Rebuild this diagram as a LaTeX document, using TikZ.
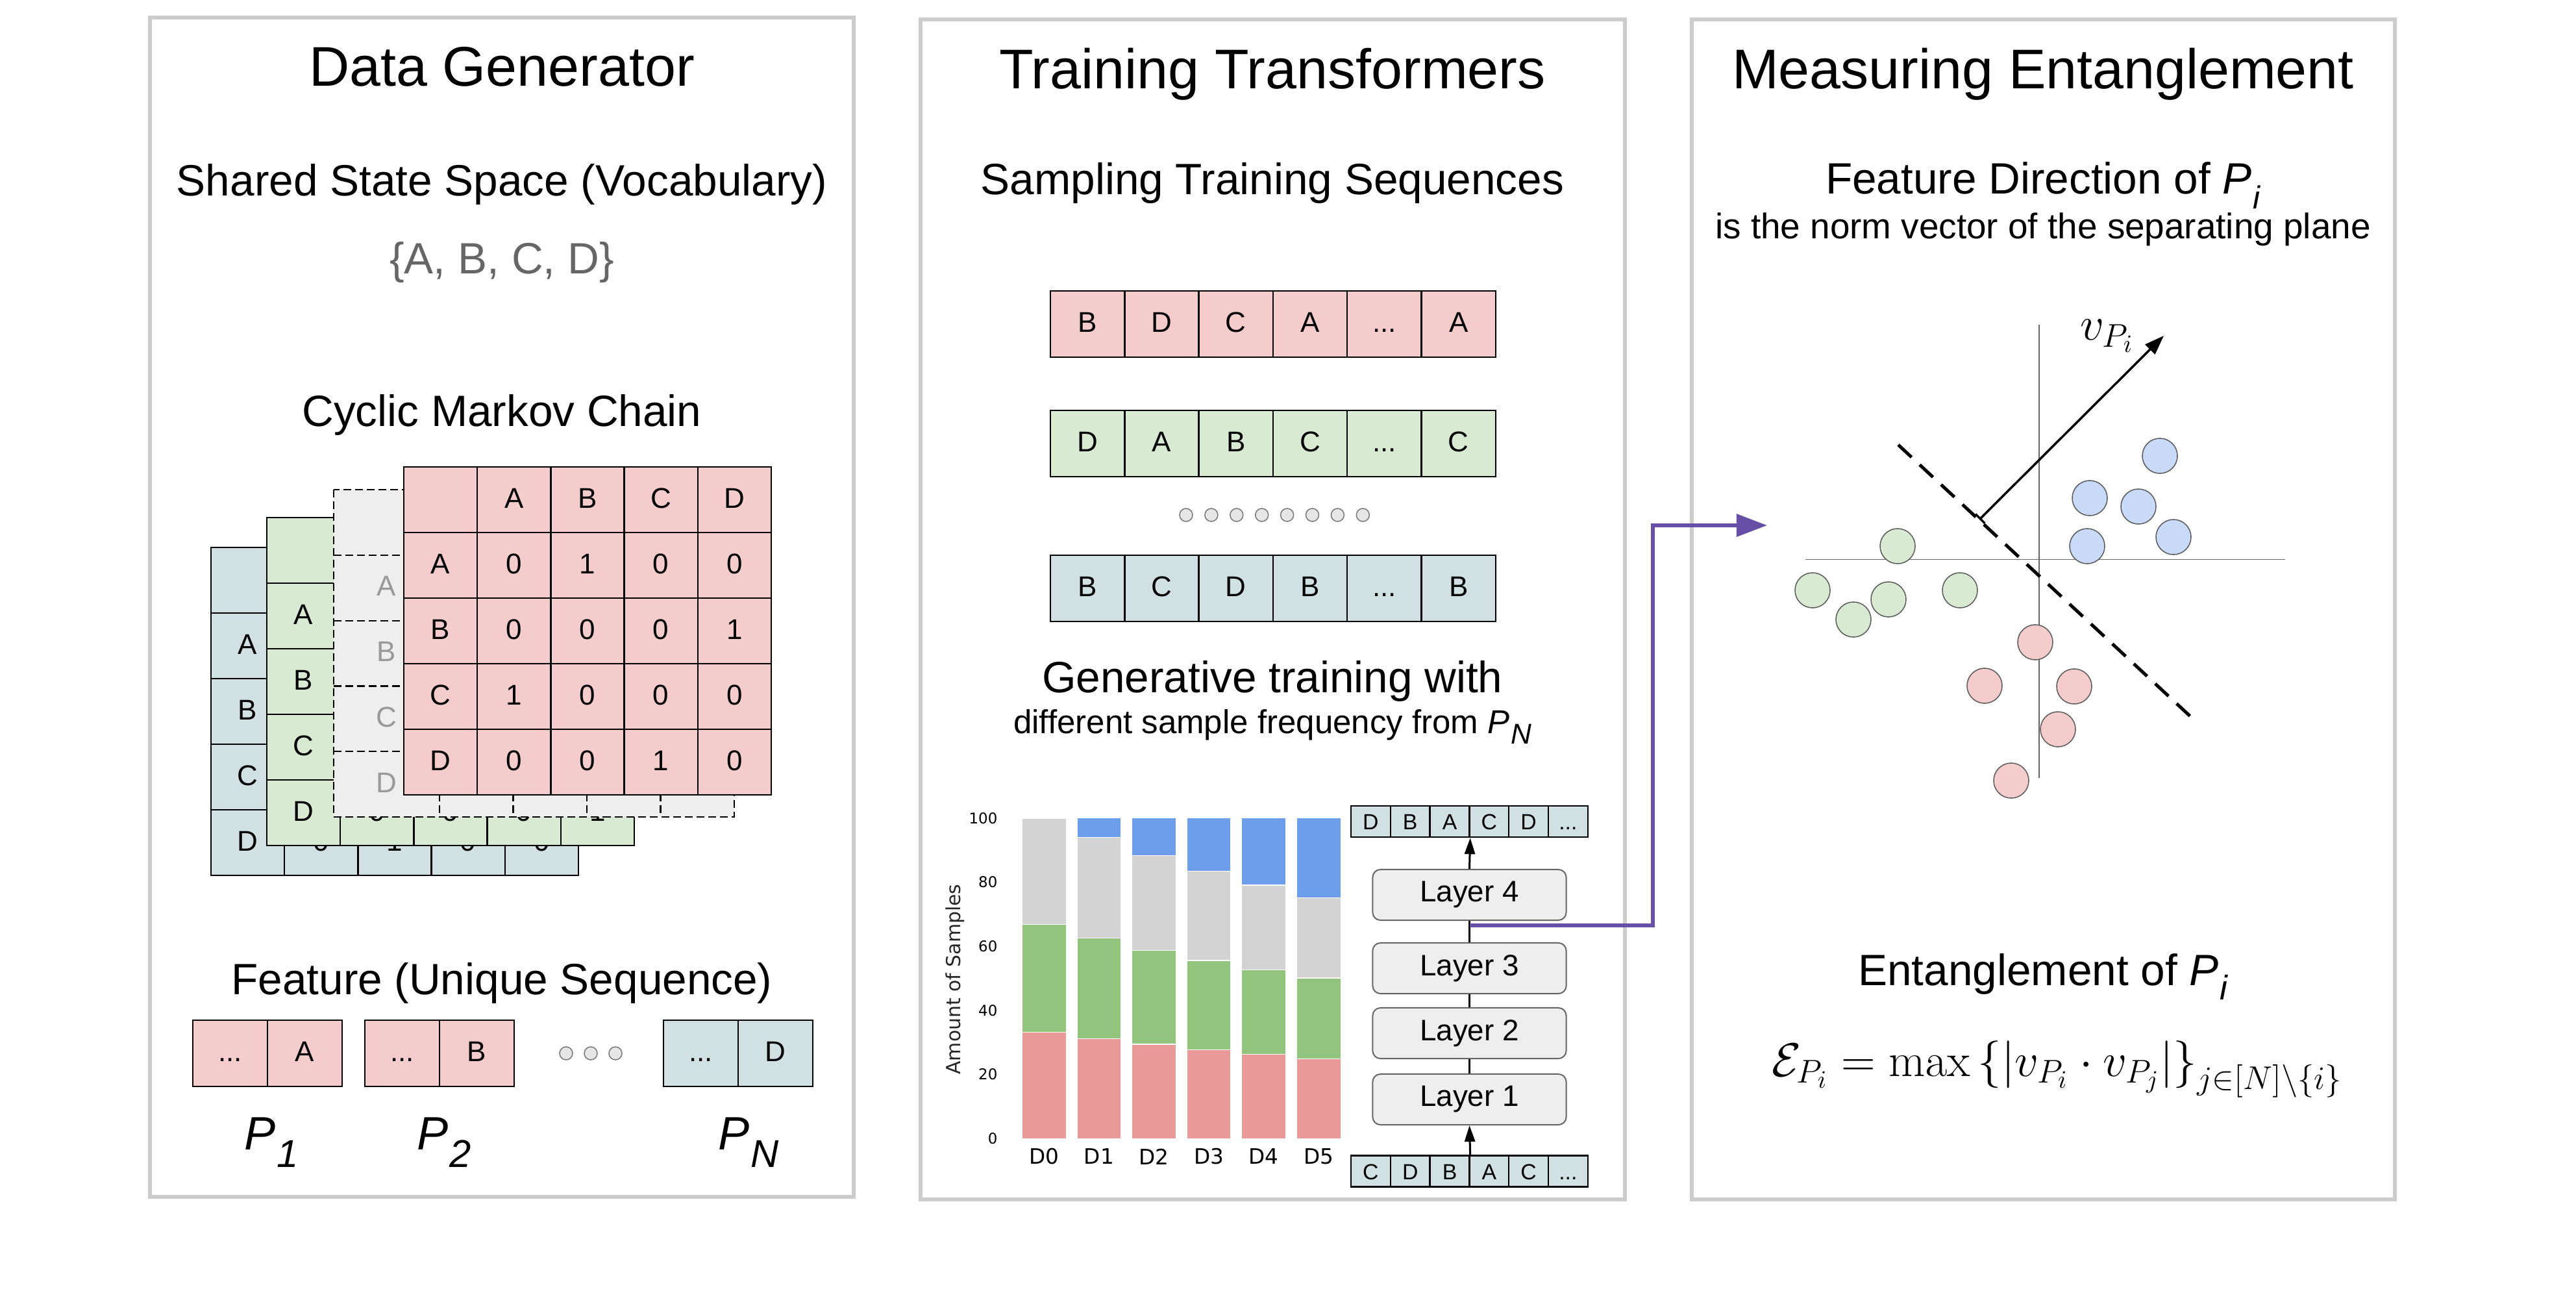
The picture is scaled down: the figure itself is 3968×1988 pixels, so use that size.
\documentclass[tikz,border=0pt]{standalone}
\usepackage[no-math]{fontspec}
\setmainfont{Liberation Sans}
\newfontfamily\dvs{DejaVu Sans}
\usetikzlibrary{arrows.meta,calc}
\definecolor{panelgray}{HTML}{CCCCCC}
\definecolor{cred}{HTML}{F4CCCC}
\definecolor{cgreen}{HTML}{D9EAD3}
\definecolor{cblue}{HTML}{D0E0E3}
\definecolor{cgrayf}{HTML}{EEEEEE}
\definecolor{graytxt}{HTML}{999999}
\definecolor{vocab}{HTML}{666666}
\definecolor{barred}{HTML}{EA9999}
\definecolor{bargreen}{HTML}{93C47D}
\definecolor{bargray}{HTML}{D3D3D3}
\definecolor{barblue}{HTML}{6D9EEB}
\definecolor{purp}{HTML}{674EA7}
\definecolor{sblue}{HTML}{C9DAF8}
\definecolor{layergray}{HTML}{666666}
\definecolor{dotgray}{HTML}{777777}
\definecolor{dotfill}{HTML}{E6E6E6}
\definecolor{ptedge}{HTML}{595959}
\definecolor{axisgray}{HTML}{666666}
\newcommand{\fs}[1]{\fontsize{#1}{#1}\selectfont}
\newcommand{\dd}{...}
\newcommand{\lowsub}[3]{{\itshape P}\kern0.03em\raisebox{-#3}{\fontsize{#2}{#2}\selectfont\itshape #1}}
% matrix frame with column-0 labels; #6 = bottom-row digits, #7 = clip top for them
\newcommand{\drawmat}[7]{%
  \fill[#4] (#2,#3) rectangle ++(566,505);
  \foreach \ii in {1,...,4} \draw[gridline] ({#2+\ii*113.2},#3) -- ++(0,505);
  \foreach \ii in {1,...,4} \draw[gridline] (#2,{#3+\ii*101}) -- ++(566,0);
  \draw[gridline] (#2,#3) rectangle ++(566,505);
  \foreach \rl [count=\rr] in {#5}
    \node[mtxt] (#1-\rr-0) at ({#2+56.6},{#3+\rr*101+50.5}) {\rl};
  \begin{scope}
    \clip (#2,#7) rectangle ++(566,200);
    \foreach \vv [count=\cc] in {#6}
      \node[mtxt] (#1-4-\cc) at ({#2+\cc*113.2+56.6},{#3+4*101+50.5}) {\vv};
  \end{scope}
}
\newcommand{\fullmat}[5]{%
  \fill[#4] (#2,#3) rectangle ++(566,505);
  \foreach \ii in {1,...,4} \draw[gridline] ({#2+\ii*113.2},#3) -- ++(0,505);
  \foreach \ii in {1,...,4} \draw[gridline] (#2,{#3+\ii*101}) -- ++(566,0);
  \draw[gridline] (#2,#3) rectangle ++(566,505);
  \foreach \hh [count=\kk] in {A,B,C,D}
    \node[mtxt] (#1h\kk) at ({#2+\kk*113.2+56.6},{#3+50.5}) {\hh};
  \foreach \rl/\ra/\rb/\rc/\rd [count=\rr] in {#5} {
    \foreach \vv [count=\cc from 0] in {\rl,\ra,\rb,\rc,\rd}
      \node[mtxt] (#1-\rr-\cc) at ({#2+\cc*113.2+56.6},{#3+\rr*101+50.5}) {\vv};
  }
}
\begin{document}
\begin{tikzpicture}[x=0.01cm,y=-0.01cm,
  gridline/.style={draw=black,line width=0.025cm},
  dline/.style={draw=black,line width=0.022cm,dash pattern=on 0.12cm off 0.06cm},
  mtxt/.style={inner sep=0,font=\fs{12.5},text height=0.72em,text depth=0pt},
  panel/.style={draw=panelgray,line width=0.065cm},
  ttl/.style={inner sep=0,anchor=base,font=\fs{24.5}},
  hd/.style={inner sep=0,anchor=base,font=\fs{19.2}},
  sub/.style={inner sep=0,anchor=base,font=\fs{15.6}},
  seqcell/.style={draw=black,line width=0.025cm,minimum width=1.143cm,minimum height=1.02cm,inner sep=0,font=\fs{12.5},text height=0.72em,text depth=0pt},
  fcell/.style={draw=black,line width=0.025cm,minimum width=1.15cm,minimum height=1.02cm,inner sep=0,font=\fs{12.5},text height=0.72em,text depth=0pt},
  tok/.style={draw=black,line width=0.025cm,fill=cblue,minimum width=0.608cm,minimum height=0.48cm,inner sep=0,font=\fs{9.6},text height=0.72em,text depth=0pt},
  layer/.style={draw=layergray,fill=cgrayf,rounded corners=0.12cm,line width=0.02cm,minimum width=2.98cm,minimum height=0.78cm,inner sep=0,font=\fs{13}},
  link/.style={draw=black,line width=0.03cm},
  arr/.style={link,-{Triangle[length=0.25cm,width=0.16cm]}},
  dotc/.style={circle,draw=dotgray,fill=dotfill,line width=0.015cm,minimum size=0.2cm,inner sep=0},
  pt/.style={circle,draw=ptedge,line width=0.015cm,minimum size=0.54cm,inner sep=0},
  tick/.style={inner sep=0,anchor=east,font=\dvs\fs{6.5}},
]
\fill[white] (0,0) rectangle (3968,1988);
\useasboundingbox (0,0) rectangle (3968,1988);

% ---------------- panels
\draw[panel] (231,27) rectangle (1315,1843);
\draw[panel] (1418,30) rectangle (2503,1847);
\draw[panel] (2606,30) rectangle (3689,1847);

% ---------------- panel 1
\node[ttl] (t1) at (773,133) {Data Generator};
\node[hd] (h1a) at (773,301) {Shared State Space (Vocabulary)};
\node[hd,text=vocab] (voc) at (773,421) {\{A, B, C, D\}};
\node[hd] (h1b) at (773,656) {Cyclic Markov Chain};

\drawmat{b}{325}{843}{cblue}{A,B,C,D}{0,1,0,0}{1301}
\drawmat{g}{411}{797}{cgreen}{A,B,C,D}{0,0,0,1}{1258}
% gray dashed matrix
\fill[cgrayf] (514,754) rectangle (1131,1258);
\foreach \xx in {677,790.5,904,1017.5} \draw[dline] (\xx,754) -- (\xx,1258);
\foreach \kk in {1,...,4} \draw[dline] (514,{754+\kk*100.8}) -- (1131,{754+\kk*100.8});
\draw[dline] (514,754) rectangle (1131,1258);
\foreach \hh [count=\kk] in {A,B,C,D}
  \node[mtxt,text=graytxt] (gy\kk) at (595.5,{754+\kk*100.8+50.4}) {\hh};
\fullmat{r}{622}{719}{cred}{A/0/1/0/0, B/0/0/0/1, C/1/0/0/0, D/0/0/1/0}

\node[hd] (h1c) at (773,1531) {Feature (Unique Sequence)};
\node[fcell,fill=cred] (f1a) at (354.5,1622) {\dd};
\node[fcell,fill=cred] (f1b) at (469.5,1622) {A};
\node[fcell,fill=cred] (f2a) at (619.5,1622) {\dd};
\node[fcell,fill=cred] (f2b) at (734.5,1622) {B};
\node[fcell,fill=cblue] (f3a) at (1079.5,1622) {\dd};
\node[fcell,fill=cblue] (f3b) at (1194.5,1622) {D};
\node[dotc] (fd1) at (872,1622) {};
\node[dotc] (fd2) at (910,1622) {};
\node[dotc] (fd3) at (948,1622) {};
\node[inner sep=0,anchor=base west,font=\fs{20.5}] (p1) at (376,1770) {\lowsub{1}{17}{7.7pt}};
\node[inner sep=0,anchor=base west,font=\fs{20.5}] (p2) at (642,1770) {\lowsub{2}{17}{7.7pt}};
\node[inner sep=0,anchor=base west,font=\fs{20.5}] (pn) at (1106,1770) {\lowsub{N}{17}{7.7pt}};

% ---------------- panel 2
\node[ttl] (t2) at (1960,137) {Training Transformers};
\node[hd] (h2a) at (1960,300) {Sampling Training Sequences};
\foreach \t [count=\k] in {B,D,C,A,\dd,A}
  \node[seqcell,fill=cred] (sa\k) at ({1618+(\k-0.5)*114.3},499) {\t};
\foreach \t [count=\k] in {D,A,B,C,\dd,C}
  \node[seqcell,fill=cgreen] (sb\k) at ({1618+(\k-0.5)*114.3},683) {\t};
\foreach \t [count=\k] in {B,C,D,B,\dd,B}
  \node[seqcell,fill=cblue] (sc\k) at ({1618+(\k-0.5)*114.3},906) {\t};
\foreach \k in {0,...,7}
  \node[dotc] (sd\k) at ({1827+\k*38.9},793) {};
\node[hd] (h2b) at (1960,1066) {Generative training with};
\node[sub,font=\fs{14.5}] (h2c) at (1960,1129) {different sample frequency from \lowsub{N}{12.5}{4.8pt}};

% bar chart
\foreach \i/\rv/\gv/\yv in {0/33.2/66.8/100, 1/31.1/62.6/94, 2/29.4/58.8/88.4, 3/27.7/55.6/83.5, 4/26.2/52.6/79.1, 5/24.9/50.1/75.2}{
  \pgfmathsetmacro{\xa}{1575+\i*84.6}
  \pgfmathsetmacro{\xb}{\xa+66.6}
  \fill[barred] (\xa,1753) rectangle (\xb,{1753-4.93*\rv});
  \fill[bargreen] (\xa,{1753-4.93*\rv}) rectangle (\xb,{1753-4.93*\gv});
  \fill[bargray] (\xa,{1753-4.93*\gv}) rectangle (\xb,{1753-4.93*\yv});
  \fill[barblue] (\xa,{1753-4.93*\yv}) rectangle (\xb,1260);
  \draw[white,line width=0.012cm] (\xa,{1753-4.93*\rv}) -- (\xb,{1753-4.93*\rv});
  \draw[white,line width=0.012cm] (\xa,{1753-4.93*\gv}) -- (\xb,{1753-4.93*\gv});
  \draw[white,line width=0.012cm] (\xa,{1753-4.93*\yv}) -- (\xb,{1753-4.93*\yv});
  \node[inner sep=0,font=\dvs\fs{9.3}] (dl\i) at ({\xa+33.3},1781) {D\i};
}
\foreach \v in {0,20,40,60,80,100}
  \node[tick] (yt\v) at (1537,{1753-4.93*\v}) {\v};
\node[inner sep=0,rotate=90,font=\dvs\fs{8.5},text=black!85] (ylab) at (1471,1508) {Amount of Samples};

% transformer stack
\foreach \t [count=\k] in {D,B,A,C,D,\dd}
  \node[tok] (tt\k) at ({2081+(\k-0.5)*60.8},1265) {\t};
\foreach \t [count=\k] in {C,D,B,A,C,\dd}
  \node[tok] (bt\k) at ({2081+(\k-0.5)*60.8},1803.5) {\t};
\node[layer] (L4) at (2263.5,1378) {Layer 4};
\node[layer] (L3) at (2263.5,1491) {Layer 3};
\node[layer] (L2) at (2263.5,1591) {Layer 2};
\node[layer] (L1) at (2263.5,1693) {Layer 1};
\draw[arr] (bt3.north east) -- (L1.south);
\draw[link] (L1.north) -- (L2.south);
\draw[link] (L2.north) -- (L3.south);
\draw[link] (L3.north) -- (L4.south);
\draw[arr] (L4.north) -- (tt3.south east);

% purple connector
\coordinate (tap) at ($(L4.south)!0.22!(L3.north)$);
\coordinate (pend) at (2722,809);
\draw[purp,line width=0.06cm,-{Triangle[length=0.47cm,width=0.34cm]}] (tap) -| (2546,809) -- (pend);

% ---------------- panel 3
\node[ttl] (t3) at (3147,137) {Measuring Entanglement};
\node[hd] (h3a) at (3147,298) {Feature Direction of \lowsub{i}{14}{6.8pt}};
\node[sub] (h3b) at (3147,367) {is the norm vector of the separating plane};

\draw[axisgray,line width=0.015cm] (2781,861.5) -- (3520,861.5);
\draw[axisgray,line width=0.015cm] (3141,500) -- (3141,1197.5);
\draw[black,line width=0.05cm,dash pattern=on 0.28cm off 0.17cm] (2924,685) -- (3377,1106);
\coordinate (vs) at (3049,800);
\coordinate (ve) at (3333,517);
\draw[black,line width=0.035cm,{Bar[width=0.2cm]}-{Triangle[length=0.3cm,width=0.21cm]}] (vs) -- (ve);
\node[inner sep=0,font=\fs{21}] (vlab) at (3246,517) {$v_{P_i}$};

\foreach \xx/\yy [count=\k] in {3327/702, 3219/767, 3294/780, 3348/827, 3215/841}
  \node[pt,fill=sblue] (bp\k) at (\xx,\yy) {};
\foreach \xx/\yy [count=\k] in {2923/841, 2792/909, 2909/923, 3019/909, 2855/954}
  \node[pt,fill=cgreen] (gp\k) at (\xx,\yy) {};
\foreach \xx/\yy [count=\k] in {3135/989, 3057/1056, 3195/1057, 3170/1123, 3098/1202}
  \node[pt,fill=cred] (rp\k) at (\xx,\yy) {};

\node[hd] (h3c) at (3147,1517) {Entanglement of \lowsub{i}{15}{6.5pt}};
\node[inner sep=0,anchor=base,font=\fs{21.2}] (formula) at (3169,1657)
  {$\mathcal{E}_{P_i} = \max\big\{\big|v_{P_i}\cdot v_{P_j}\big|\big\}_{j\in[N]\setminus\{i\}}$};
\end{tikzpicture}
\end{document}
